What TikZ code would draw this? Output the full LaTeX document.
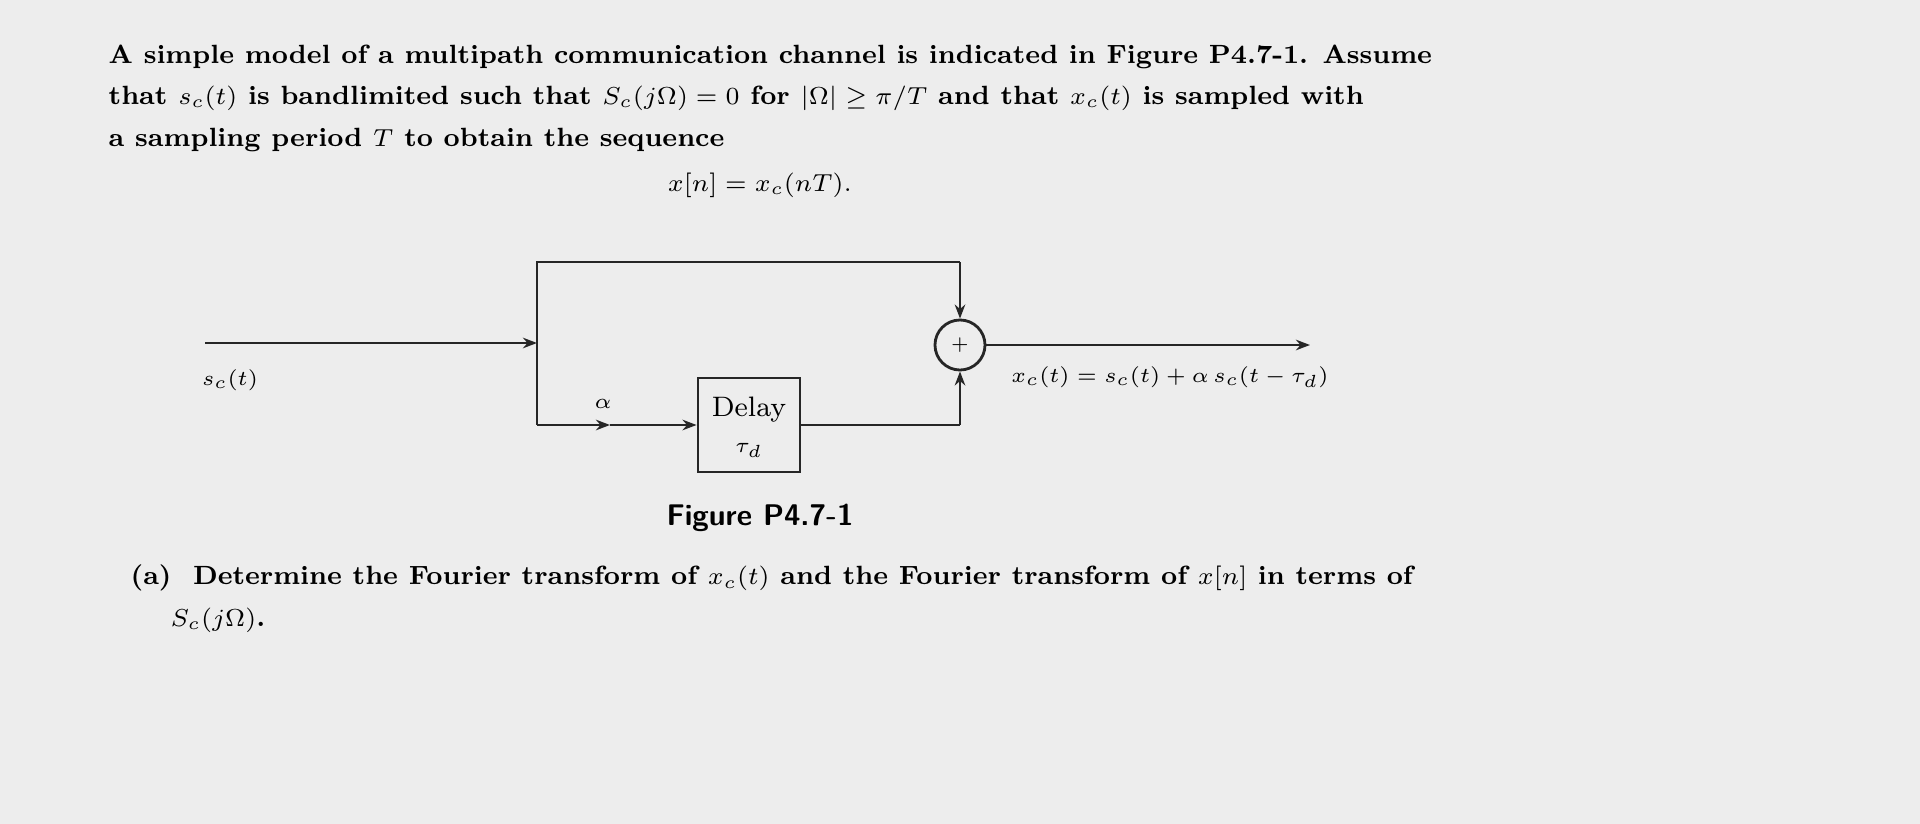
\documentclass[tikz,border=0pt]{standalone}
\usetikzlibrary{arrows.meta}
\begin{document}
\begin{tikzpicture}[x=0.01cm,y=-0.01cm,
  line/.style={line width=0.8pt,draw=black!85},
  arr/.style={-{Stealth[length=4pt,width=3pt]}},
  txt/.style={anchor=west,inner sep=0,font=\fontsize{7.5}{9.5}\selectfont\bfseries},
  lbl/.style={inner sep=1pt,font=\fontsize{6.5}{8}\selectfont}]
\fill[black!7] (0,0) rectangle (1920,824);
\useasboundingbox (0,0) rectangle (1920,824);
\node[txt] (l1) at (108,57) {A simple model of a multipath communication channel is indicated in Figure P4.7-1. Assume};
\node[txt] (l2) at (108,98) {that $s_c(t)$ is bandlimited such that $S_c(j\Omega)=0$ for $|\Omega|\geq\pi/T$ and that $x_c(t)$ is sampled with};
\node[txt] (l3) at (108,140) {a sampling period $T$ to obtain the sequence};
\node[txt,anchor=center] (eq) at (760,185) {$x[n]=x_c(nT).$};
% diagram
\coordinate (in) at (205,343);
\coordinate (j) at (537,343);
\coordinate (tl) at (537,262);
\coordinate (tr) at (960,262);
\coordinate (bl) at (537,425);
\coordinate (br) at (960,425);
\coordinate (out) at (1310,345);
\node[circle,draw=black!85,line width=0.8pt,minimum size=0.5cm,inner sep=0] (sum) at (960,345) {\tiny$+$};
\node[draw=black!85,line width=0.8pt,minimum width=1.02cm,minimum height=0.94cm,inner sep=0] (delay) at (749,425) {};
\node[lbl,font=\fontsize{8}{10}\selectfont] (dl) at (749,410) {Delay};
\node[lbl] (td) at (749,450) {$\tau_d$};
\draw[line,arr] (in) -- (j);
\draw[line] (j) -- (tl) -- (tr);
\draw[line,arr] (tr) -- (sum.north);
\draw[line] (j) -- (bl);
\draw[line,arr] (bl) -- (610,425);
\draw[line,arr] (610,425) -- (delay.west);
\draw[line] (delay.east) -- (br);
\draw[line,arr] (br) -- (sum.south);
\draw[line,arr] (sum.east) -- (out);
\node[lbl] (a) at (603,404) {$\alpha$};
\node[lbl] (sc) at (230,380) {$s_c(t)$};
\node[lbl] (xc) at (1170,377) {$x_c(t)=s_c(t)+\alpha\, s_c(t-\tau_d)$};
\node[inner sep=0,font=\sffamily\bfseries\fontsize{8.5}{10}\selectfont] (fig) at (760,518) {Figure P4.7-1};
\node[txt] (pa) at (130,578) {(a)\ \ Determine the Fourier transform of $x_c(t)$ and the Fourier transform of $x[n]$ in terms of};
\node[txt] (pb) at (170,620) {$S_c(j\Omega)$.};
\end{tikzpicture}
\end{document}
